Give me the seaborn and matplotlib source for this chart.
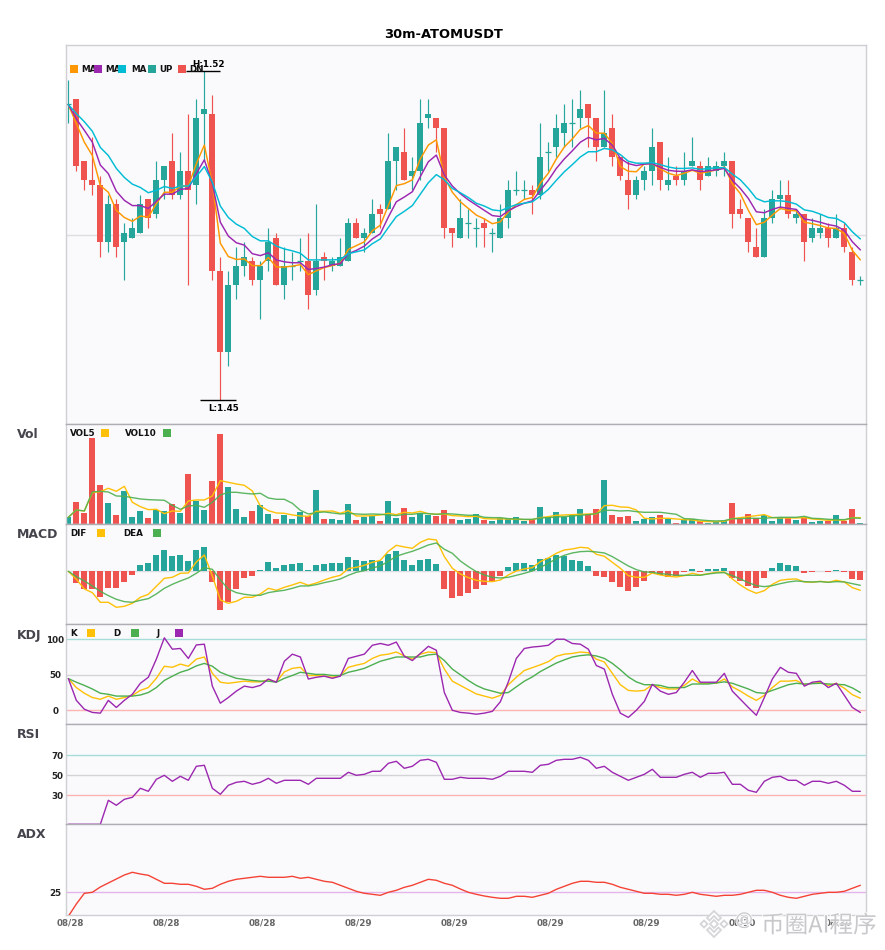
import numpy as np
import pandas as pd
import matplotlib
matplotlib.use("Agg")
import matplotlib.pyplot as plt
from matplotlib.patches import Rectangle, Polygon
import matplotlib.patheffects as pe
import seaborn as sns

opens = [1512,1513,1500,1496,1495,1483,1491,1483,1484,1485,1492,1489,1496,1500,1493,1498,1495,1510,1510,1477,
         1460,1474,1478,1479,1475,1479,1484,1474,1478,1479,1479,1473,1480,1478,1478,1479,1487,1484,1485,1490,
         1490,1500,1502,1497,1498,1509,1509,1507,1486,1484,1487,1486,1487,1485,1484,1488,1494,1494,1494,1493,
         1502,1503,1506,1508,1509,1512,1509,1503,1507,1501,1496,1493,1496,1498,1504,1495,1497,1496,1499,1499,
         1497,1498,1499,1500,1490,1488,1482,1480,1488,1492,1493,1488,1489,1484,1485,1486,1484,1486,1481,1475]
closes = [1512,1499,1496,1495,1483,1491,1482,1485,1486,1491,1488,1496,1499,1493,1498,1494,1509,1511,1477,1460,
          1474,1478,1480,1475,1478,1483,1474,1478,1478,1479,1472,1479,1479,1479,1480,1487,1484,1485,1489,1489,
          1500,1503,1496,1498,1508,1510,1507,1486,1485,1488,1487,1486,1486,1485,1488,1494,1494,1494,1493,1501,
          1502,1507,1508,1508,1511,1509,1503,1506,1501,1497,1493,1496,1498,1503,1496,1496,1496,1498,1500,1496,
          1499,1499,1500,1489,1489,1483,1480,1488,1492,1493,1489,1489,1483,1486,1486,1484,1486,1482,1475,1475]
highs = [1517,1513,1500,1505,1497,1493,1492,1487,1488,1493,1492,1500,1499,1506,1502,1510,1513,1519,1514,1480,
         1477,1482,1483,1480,1479,1486,1485,1482,1481,1484,1485,1491,1481,1480,1484,1488,1488,1486,1492,1491,
         1506,1503,1507,1501,1513,1513,1509,1507,1486,1492,1490,1488,1488,1486,1491,1496,1498,1496,1495,1508,
         1504,1510,1512,1513,1515,1512,1509,1515,1510,1501,1500,1497,1499,1507,1504,1501,1499,1502,1505,1500,
         1501,1500,1502,1500,1492,1488,1486,1490,1494,1496,1496,1490,1489,1488,1489,1487,1489,1487,1482,1476]
lows = [1508,1498,1494,1493,1480,1481,1480,1475,1484,1485,1486,1488,1492,1492,1492,1474,1491,1500,1475,1450,
        1457,1471,1476,1474,1467,1477,1474,1471,1475,1477,1469,1472,1475,1477,1478,1479,1484,1481,1485,1486,
        1490,1494,1496,1494,1496,1507,1502,1484,1482,1484,1484,1482,1482,1481,1484,1486,1493,1492,1489,1492,
        1498,1501,1503,1503,1507,1503,1500,1503,1499,1496,1490,1492,1494,1495,1494,1494,1495,1495,1499,1494,
        1497,1497,1497,1486,1488,1481,1480,1480,1487,1490,1488,1487,1479,1483,1484,1482,1484,1481,1474,1474]

ma_fast = [1511.9,1507.9,1504.0,1501.2,1494.9,1493.5,1489.7,1488.2,1487.4,1488.5,1488.3,1491.1,1493.5,1493.5,1494.8,1494.8,1499.5,1503.4,1495.3,1482.8,
           1480.0,1479.4,1479.5,1478.1,1478.1,1479.8,1477.8,1477.8,1478.0,1478.3,1476.2,1477.0,1477.7,1478.1,1478.6,1481.5,1482.3,1483.1,1485.4,1486.6,
           1490.7,1494.9,1495.3,1496.1,1500.5,1503.4,1504.5,1496.7,1493.5,1491.5,1490.1,1488.7,1487.9,1486.9,1487.3,1489.4,1490.9,1492.0,1492.4,1495.4,
           1497.5,1500.5,1503.0,1504.7,1506.7,1507.5,1505.9,1505.9,1503.7,1498.9,1497.9,1497.8,1499.5,1499.5,1498.4,1497.5,1497.0,1497.5,1498.1,1497.5,
           1497.8,1498.2,1498.8,1495.3,1493.2,1489.7,1486.7,1487.2,1488.7,1490.1,1489.7,1489.6,1487.2,1486.9,1486.5,1486.0,1485.9,1484.8,1481.3,1479.3]
ma_mid = [1511.9,1508.9,1506.5,1504.0,1499.2,1497.4,1493.7,1491.8,1490.7,1490.7,1490.1,1491.6,1493.1,1493.1,1494.1,1494.3,1497.4,1500.3,1495.3,1487.2,
          1484.3,1482.9,1482.4,1480.6,1480.2,1480.8,1479.3,1478.9,1478.7,1478.7,1477.3,1477.5,1477.8,1478.3,1478.5,1480.6,1481.3,1482.2,1483.7,1484.8,
          1488.3,1491.5,1492.5,1493.6,1496.8,1499.9,1501.3,1497.1,1494.8,1493.2,1491.9,1490.8,1489.7,1488.6,1488.4,1489.6,1490.5,1491.2,1491.7,1493.9,
          1496.0,1498.5,1500.5,1502.2,1504.0,1505.0,1504.5,1504.8,1503.4,1500.6,1499.5,1499.1,1499.4,1499.5,1498.7,1498.1,1497.9,1497.9,1498.2,1497.8,
          1498.0,1498.2,1498.5,1496.0,1494.3,1492.2,1489.4,1489.2,1489.9,1490.4,1490.1,1489.9,1487.9,1487.6,1487.2,1486.7,1486.4,1485.5,1483.1,1481.4]
ma_slow = [1511.9,1510.0,1508.3,1506.3,1502.9,1501.2,1498.5,1496.6,1495.2,1494.5,1493.4,1493.9,1494.7,1494.3,1494.8,1494.8,1496.8,1498.9,1495.6,1490.6,
           1488.2,1486.8,1485.9,1484.2,1483.3,1483.3,1482.2,1481.6,1481.2,1480.7,1479.3,1479.3,1479.3,1479.3,1479.4,1480.6,1481.0,1481.4,1482.7,1483.7,
           1486.1,1488.4,1489.5,1490.7,1493.1,1495.5,1497.2,1496.1,1494.3,1493.4,1492.4,1491.2,1490.6,1489.8,1489.6,1490.3,1490.9,1491.2,1491.5,1492.7,
           1494.1,1496.0,1497.8,1499.3,1500.9,1502.0,1502.0,1502.7,1502.4,1501.4,1500.0,1499.6,1499.6,1499.7,1499.3,1498.8,1498.5,1498.5,1498.6,1498.3,
           1498.5,1498.6,1498.7,1497.3,1496.1,1494.3,1492.2,1491.5,1491.7,1491.7,1491.5,1491.0,1489.8,1489.5,1488.9,1488.2,1488.0,1487.1,1485.2,1483.7]

volume = [21,67,34,259,118,64,28,100,22,40,19,43,40,61,34,151,70,43,130,271,
          112,46,22,40,58,31,16,28,16,37,25,103,16,16,13,61,13,22,28,10,
          70,19,49,22,34,28,25,43,16,13,16,31,13,10,18,16,22,10,16,52,
          22,37,22,28,46,31,46,133,28,22,25,10,16,22,28,16,4,16,16,10,
          4,7,10,64,16,31,19,28,10,22,19,13,22,7,10,10,28,10,46,4]
vol5 = [21,43,40,95,98,108,99,114,66,53,44,45,32,40,39,70,73,73,85,131,
        126,121,117,100,55,41,34,33,28,25,24,39,39,40,33,41,25,25,26,28,
        33,29,36,34,39,32,30,31,26,25,23,24,17,16,16,16,15,14,14,20,
        23,27,28,29,30,31,31,56,57,52,51,43,18,16,18,18,16,14,13,9,
        8,8,9,17,20,23,26,29,20,19,19,19,20,16,14,12,13,12,20,20]
vol10 = [21,43,40,97,99,97,85,84,80,76,74,73,72,57,45,55,57,51,66,88,
         96,96,93,91,93,79,75,75,63,42,31,35,37,34,31,33,31,30,31,30,
         28,26,30,30,33,32,30,32,31,29,27,27,21,20,20,17,16,15,15,19,
         20,22,23,25,27,29,32,42,42,40,41,38,36,36,36,33,30,17,16,13,
         11,10,11,17,17,18,18,18,20,21,21,21,24,18,17,15,14,14,19,18]

macd_hist = [0,-35,-53,-53,-77,-50,-50,-32,-11,19,25,49,64,46,49,31,64,73,-32,-116,
             -92,-53,-20,-14,3,28,10,19,22,25,4,19,22,25,25,43,34,31,34,31,
             52,61,34,19,34,37,22,-53,-80,-74,-65,-53,-41,-32,-14,13,25,25,19,37,
             40,49,46,34,31,16,-14,-17,-32,-47,-59,-47,-29,-5,-11,-16,-13,-2,7,-2,
             7,7,10,-20,-29,-44,-50,-20,10,25,19,16,-5,-2,0,-2,4,-2,-23,-26]
dif = [0,-24,-53,-64,-93,-93,-108,-105,-96,-78,-69,-45,-21,-18,-6,-5,28,49,-14,-86,
       -96,-90,-78,-78,-68,-51,-57,-48,-41,-33,-42,-35,-26,-18,-12,8,12,18,27,33,
       60,78,73,69,87,97,94,44,9,-8,-19,-27,-30,-31,-26,-11,1,7,11,29,
       40,54,64,67,72,70,51,45,27,9,-13,-18,-18,-5,-11,-15,-17,-13,-6,-11,
       -7,-3,-2,-23,-41,-56,-66,-58,-39,-27,-24,-23,-32,-33,-30,-33,-27,-32,-49,-57]
dea = [0,-16,-29,-44,-60,-73,-84,-91,-93,-87,-82,-68,-51,-39,-29,-20,-6,11,6,-26,
       -53,-64,-69,-72,-72,-64,-60,-57,-51,-44,-44,-40,-34,-29,-23,-12,-3,2,10,16,
       30,45,53,60,69,79,85,66,54,31,14,-1,-11,-18,-20,-18,-12,-6,1,12,
       24,38,48,55,59,60,58,55,44,30,16,5,-2,-3,-7,-9,-12,-12,-12,-12,
       -8,-5,-4,-13,-23,-34,-43,-46,-43,-37,-32,-29,-31,-32,-31,-33,-31,-32,-37,-42]

kdj_k = [44.6,32,24,18,15.5,20,15.5,18,21,28,32,45,62,60.5,65,62,72,75,52,39.5,
         38,39.5,41,40,40,43,40,54,59,60.5,49,49,48,46.5,49,60.5,63.5,66,73,77.5,
         79,82,76.5,72,79,82,81,58,41,35,29,23,20,17,21,36,46.5,56,60,64,
         68.5,76,79,80,82,81,72,68,52,36,28,27,28,36,32,30,30,35,44,38,
         38,38,44,33,27,20,14,21,32,41,41,42,36,38,39,35,38,31,22,17]
kdj_d = [44.6,39.5,35,30,24,22.5,20,20,20,21.5,25,32,42,48,53.5,57,62.5,66,62,53.5,
         49,45,43.5,42,41,41,39.5,45,49,53.5,52,50.5,50.5,49,49,53.5,56,59,64,69,
         72,75,75,75,75,78,79,70,58,50,42,35,30,27,24,25,33,41,47,54.5,
         60.5,66.5,71,75,77,78,76.5,73,66,57,47,40,36,36,35,32,32,32,37,37,
         37,38.5,40,38,34,30,25,24,28,32,36,38,37,37.5,38,37,36.5,36,31.5,25]
kdj_j = [44.6,14,1.5,-3,-4,14,4,14,22.5,38,46.5,72,102,86,87,73,92,93,34,10,
         18,27,34,32,35,44,39.5,69,79,75,44,46.5,48,45,48,73,76,79,91.5,94,
         91.5,96,76,70,80,90,84.5,25,0,-3,-4,-5.5,-4,-1.5,12,40,73,87,89,90,
         91.5,100,100,94,93,86,63,58,22.5,-4,-10,0,12.5,36.5,27,22.5,25,39.5,56,39.5,
         39.5,39.5,52,27,15.5,4,-7,18,44,60.5,53.5,52,34,39.5,41,32,38,21,4,-3]

rsi = [1,1,1,1,1,25,20,26,28,37,34,46,50,44,49,45,59,60,37,31,
       40,43,44,41,43,47,42,45,45,45,41,47,47,47,47,53,50,51,54,54,
       62,64,57,59,65,66,63,46,46,48,47,47,47,46,49,54,54,54,53,60,
       61,65,66,66,68,65,57,59,53,49,45,48,51,56,48,48,48,51,53,48,
       52,52,53,41,41,35,33,44,48,49,45,45,40,44,44,42,44,40,34,34]
adx = [1,13.3,24,25,30.3,34.3,38.3,42.3,45,43.3,42,38,34,34,33,33,31,28,29,33,
       36,38,39,40,41,40,40,40,41,39,40,38,36,35,32,29,26,24,23,22,
       25,27,30,32,35,38,37,34,32,28.3,25,23,21.3,20,19,19,21,21,20,22,
       24,28,31,34,36,36,35,35,33,30,28,26,24,24,23,23,22,23,25,23,
       22,21,22,22,23,25,27,27,25,22,20,19,21,23,24,25,25,26,29,32]

date_ticks = ["08/28","08/28","08/28","08/29","08/29","08/29","08/29","08/30","08/30"]
panel_names = ["Vol","MACD","KDJ","RSI","ADX"]

UP, DN = "#26a69a", "#ef5350"
C_MA = ["#ff9800", "#9c27b0", "#00bcd4"]
C_Y, C_G, C_P = "#ffc107", "#4caf50", "#9c27b0"
BG = "#fafafc"
EDGE = "#cfcfd6"
DARK = "#adadb3"

sns.set_theme(style="white")
plt.rcParams["font.family"] = ["DejaVu Sans"]

W, H = 885, 950
fig = plt.figure(figsize=(W/100, H/100), dpi=100, facecolor="white")
L_PX, R_PX = 65.7, 865.7

def panel(top, bottom):
    ax = fig.add_axes([L_PX/W, 1-bottom/H, (R_PX-L_PX)/W, (bottom-top)/H], facecolor=BG)
    ax.set_xlim(-0.33, 99.67)
    for s in ax.spines.values():
        s.set_color(EDGE); s.set_linewidth(1.0)
    ax.tick_params(axis="both", length=0)
    ax.set_xticks([])
    ax.set_yticks([])
    return ax

idx = np.arange(len(opens))
o = np.array(opens)/1000; c = np.array(closes)/1000
h = np.array(highs)/1000; l = np.array(lows)/1000
is_up = c >= o
dirs = np.where(is_up, "up", "dn")

def line(ax, y, color, lw=1.0, alpha=1.0, z=3):
    sns.lineplot(x=idx[:len(y)], y=y, color=color, lw=lw, alpha=alpha, ax=ax,
                 errorbar=None, sort=False, legend=False, zorder=z)

def xy_clean(ax):
    ax.set_xlabel(""); ax.set_ylabel("")
    ax.set_xlim(-0.33, 99.67)

def bars(ax, values, direction):
    df = pd.DataFrame({"i": idx, "v": values, "d": direction})
    sns.barplot(data=df, x="i", y="v", hue="d", palette={"up": UP, "dn": DN}, dodge=False,
                saturation=1, legend=False, errorbar=None, ax=ax, zorder=2)
    for p in ax.patches:
        center = p.get_x() + p.get_width()/2
        p.set_width(0.75)
        p.set_x(center - 0.375)
        p.set_linewidth(0)

# main
ax0 = panel(45, 424.3)
ax0.set_ylim(1.4448, 1.5244)
ax0.axhline(1.4846, color="#dedee2", lw=1.0, zorder=1)
colors = np.where(is_up, UP, DN)
ax0.vlines(idx, l, h, colors=colors, lw=0.85, zorder=2)
nz = o != c
ax0.bar(idx[nz], np.abs(c-o)[nz], bottom=np.minimum(o, c)[nz], width=0.75, color=colors[nz], lw=0, zorder=2)
ax0.hlines(o[~nz], idx[~nz]-0.375, idx[~nz]+0.375, colors=colors[~nz], lw=0.9, zorder=2)
for arr, col in zip([ma_fast, ma_mid, ma_slow], C_MA):
    line(ax0, np.array(arr)/1000, col, lw=1.05)
xy_clean(ax0); ax0.set_xticks([]); ax0.set_yticks([])
ih, il = int(np.argmax(h)), int(np.argmin(l))
ax0.hlines(h[ih], ih-2.3, ih+2.0, color="black", lw=1.0, zorder=5)
ax0.hlines(l[il], il-2.5, il+2.0, color="black", lw=1.0, zorder=5)
ax0.annotate(f"H:{h[ih]:.2f}", (ih, h[ih]), xytext=(3, 1.5), textcoords="offset points",
             ha="center", va="bottom", fontsize=6.3, fontweight="bold", color="black", zorder=6)
ax0.annotate(f"L:{l[il]:.2f}", (il, l[il]), xytext=(2.5, -3.5), textcoords="offset points",
             ha="center", va="top", fontsize=6.3, fontweight="bold", color="black", zorder=6)

# volume
ax1 = panel(424.3, 524.3)
bars(ax1, volume, dirs)
line(ax1, vol5, C_Y, lw=1.0)
line(ax1, vol10, C_G, lw=1.0, alpha=0.9)
ax1.set_ylim(0, 300)
xy_clean(ax1); ax1.set_xticks([]); ax1.set_yticks([])

# MACD
ax2 = panel(524.3, 624.3)
ax2.axhline(0, color="#dedee2", lw=1.0, zorder=1)
bars(ax2, macd_hist, np.where(np.array(macd_hist) >= 0, "up", "dn"))
line(ax2, dif, C_Y, lw=1.0)
line(ax2, dea, C_G, lw=1.0, alpha=0.9)
ax2.set_ylim(-159, 141)
xy_clean(ax2); ax2.set_xticks([]); ax2.set_yticks([])

def ylabels(ax, ticks, pad):
    ax.set_yticks(ticks)
    ax.set_yticklabels([str(t) for t in ticks], fontsize=6.3, fontweight="bold", color="#222222", ha="center")
    ax.tick_params(axis="y", pad=pad, length=0)

# KDJ
ax3 = panel(624.3, 724.3)
ax3.axhline(100, color="#a8dcd8", lw=1.0, zorder=1)
ax3.axhline(50, color="#d4d4d8", lw=1.0, zorder=1)
ax3.axhline(0, color="#ffb4b4", lw=1.0, zorder=1)
line(ax3, kdj_k, C_Y, lw=1.0)
line(ax3, kdj_d, C_G, lw=1.0)
line(ax3, kdj_j, C_P, lw=1.0)
ax3.set_ylim(-19.7, 121)
xy_clean(ax3); ax3.set_xticks([])
ylabels(ax3, [0, 50, 100], 7.5)

# RSI
ax4 = panel(724.3, 824.3)
ax4.axhline(70, color="#a8dcd8", lw=1.0, zorder=1)
ax4.axhline(50, color="#d4d4d8", lw=1.0, zorder=1)
ax4.axhline(30, color="#ffb4b4", lw=1.0, zorder=1)
line(ax4, rsi, C_P, lw=1.0)
ax4.set_ylim(1, 101)
xy_clean(ax4); ax4.set_xticks([])
ylabels(ax4, [30, 50, 70], 6.2)

# ADX
ax5 = panel(824.3, 915)
ax5.axhline(25, color="#e3b5ec", lw=1.0, zorder=1)
line(ax5, adx, "#f44336", lw=1.0)
ax5.set_ylim(2.3, 93)
xy_clean(ax5)
ylabels(ax5, [25], 7.5)
ax5.set_xticks(idx[::12][:len(date_ticks)] + 0.2)
ax5.set_xticklabels(date_ticks, fontsize=6.3, fontweight="bold", color="#666666")
ax5.tick_params(axis="x", pad=2.2, length=0)

for ax in (ax1, ax2, ax3, ax4, ax5):
    ax.spines["top"].set_color(DARK)

# overlay in image pixels for title, legends, panel names and watermark
ov = fig.add_axes([0, 0, 1, 1], facecolor="none", zorder=10)
ov.set_xlim(0, W); ov.set_ylim(H, 0); ov.axis("off")
ov.text(444, 34, "30m-ATOMUSDT", fontsize=9.4, fontweight="bold", color="black", ha="center", va="center")

def sq(x, y, col):
    ov.add_patch(Rectangle((x, y-4), 8, 8, facecolor=col, edgecolor="none", zorder=3))

def lab(x, y, s):
    ov.text(x, y, s, fontsize=6.3, fontweight="bold", color="#111111", ha="left", va="center", zorder=2)

for x, col, tx, s in [(70, C_MA[0], 81, "MA"), (94, C_MA[1], 105, "MA"), (118, C_MA[2], 131, "MA"),
                      (148, UP, 159, "UP"), (178, DN, 189, "DN")]:
    sq(x, 69, col); lab(tx, 69, s)
for x, col, tx, s in [(101, C_Y, 70, "VOL5"), (163, C_G, 125, "VOL10")]:
    sq(x, 433, col); lab(tx, 433.5, s)
for x, col, tx, s in [(97, C_Y, 70, "DIF"), (153, C_G, 123, "DEA")]:
    sq(x, 533, col); lab(tx, 534, s)
for x, col, tx, s in [(87, C_Y, 70, "K"), (131, C_G, 113, "D"), (175, C_P, 157, "J")]:
    sq(x, 633, col); lab(tx, 634, s)

for name, y in zip(panel_names, [435, 535, 635, 735, 835]):
    ov.text(17, y, name, fontsize=9, fontweight="bold", color="#44444c", ha="left", va="center")

halo = [pe.withStroke(linewidth=1.2, foreground="white")]
ov.text(761, 926, "币圈AI程序", fontsize=17, color="#c4c4c8", ha="left", va="center", alpha=0.9,
        family=["Noto Sans CJK SC", "DejaVu Sans"], path_effects=halo, zorder=5)
ov.text(744, 920, "@", fontsize=13, color="#c4c4c8", ha="center", va="center", alpha=0.9,
        path_effects=halo, zorder=5)
lx, ly = 714, 924
logo = [
    [(lx, ly-4), (lx+4, ly), (lx, ly+4), (lx-4, ly)],
    [(lx-10, ly-3.5), (lx-6.5, ly), (lx-10, ly+3.5), (lx-13.5, ly)],
    [(lx+10, ly-3.5), (lx+13.5, ly), (lx+10, ly+3.5), (lx+6.5, ly)],
    [(lx, ly-13), (lx+7, ly-6), (lx+4.5, ly-3.5), (lx, ly-8), (lx-4.5, ly-3.5), (lx-7, ly-6)],
    [(lx, ly+13), (lx+7, ly+6), (lx+4.5, ly+3.5), (lx, ly+8), (lx-4.5, ly+3.5), (lx-7, ly+6)],
]
for pts in logo:
    ov.add_patch(Polygon(pts, closed=True, facecolor="white", edgecolor="#d6d6da", lw=1.3, zorder=5))

fig.savefig("out.png", dpi=100, facecolor="white")
